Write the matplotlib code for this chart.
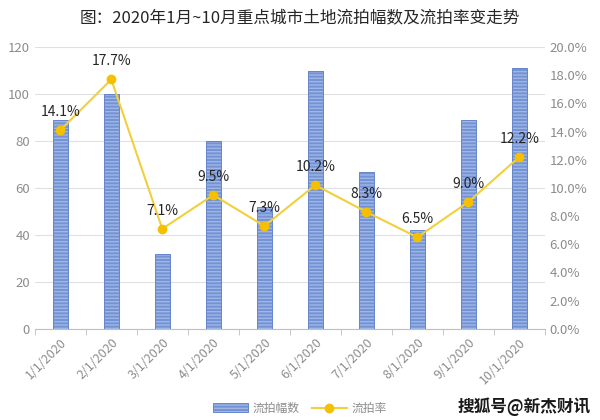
import numpy as np
import matplotlib
matplotlib.use('Agg')
import matplotlib.pyplot as plt

plt.rcParams['font.family'] = ['Noto Sans CJK SC', 'DejaVu Sans']

dates = ['1/1/2020', '2/1/2020', '3/1/2020', '4/1/2020', '5/1/2020',
         '6/1/2020', '7/1/2020', '8/1/2020', '9/1/2020', '10/1/2020']
counts = [89, 100, 32, 80, 52, 110, 67, 42, 89, 111]
rates = [14.1, 17.7, 7.1, 9.5, 7.3, 10.2, 8.3, 6.5, 9.0, 12.2]

fig = plt.figure(figsize=(6, 4.2), dpi=100)
ax = fig.add_axes([0.058, 0.217, 0.85, 0.671])
x = np.arange(len(dates))

bars = ax.bar(x, counts, width=0.3, color='#7393d4', edgecolor='#5a7cc6',
              linewidth=0.6, hatch='-----', label='流拍幅数', zorder=2)
for b in bars:
    b._hatch_color = matplotlib.colors.to_rgba('#9fb6e6')

ax.set_xlim(-0.5, len(dates) - 0.5)
ax.set_ylim(0, 120)
ax.set_yticks(range(0, 121, 20))
ax.grid(axis='y', color='#e0e0e0', linewidth=0.8, zorder=0)
ax.set_axisbelow(True)
for s in ['top', 'right', 'left']:
    ax.spines[s].set_visible(False)
ax.spines['bottom'].set_color('#bfbfbf')
ax.tick_params(axis='y', length=0, labelcolor='#8c8c8c', labelsize=9.5)
ax.set_xticks(x)
ax.set_xticklabels(dates, rotation=45, ha='right', rotation_mode='anchor',
                   color='#8c8c8c', fontsize=9)
ax.tick_params(axis='x', length=0, pad=5)
ax.set_xticks(np.arange(-0.5, len(dates), 1), minor=True)
ax.tick_params(axis='x', which='minor', length=4, color='#bfbfbf')

ax2 = ax.twinx()
ax2.plot(x, rates, color='#f2cf3c', linewidth=1.5, marker='o', markersize=6,
         markerfacecolor='#f5c000', markeredgecolor='#f5c000', label='流拍率', zorder=3)
ax2.set_ylim(0, 20)
ax2.set_yticks(np.arange(0, 20.1, 2))
ax2.set_yticklabels([f'{v:.1f}%' for v in np.arange(0, 20.1, 2)])
for s in ['top', 'right', 'left', 'bottom']:
    ax2.spines[s].set_visible(False)
ax2.tick_params(axis='y', length=0, labelcolor='#8c8c8c', labelsize=9.5)
for xi, r in zip(x, rates):
    ax2.annotate(f'{r:.1f}%', (xi, r), xytext=(0, 8), textcoords='offset points',
                 ha='center', va='bottom', fontsize=10, color='#262626')

fig.text(0.5, 0.958, '图：2020年1月~10月重点城市土地流拍幅数及流拍率变走势',
         ha='center', va='center', fontsize=12, color='#262626')

h1, l1 = ax.get_legend_handles_labels()
h2, l2 = ax2.get_legend_handles_labels()
fig.legend(h1 + h2, l1 + l2, loc='center', bbox_to_anchor=(0.5, 0.028), ncol=2,
           frameon=False, fontsize=8.5, labelcolor='#8c8c8c', handlelength=3,
           columnspacing=1.0, handletextpad=0.4)

fig.text(0.985, 0.032, '搜狐号@新杰财讯', ha='right', va='center', fontsize=12,
         fontweight='bold', color='#1a1a1a')

fig.savefig('out.png', dpi=100)
